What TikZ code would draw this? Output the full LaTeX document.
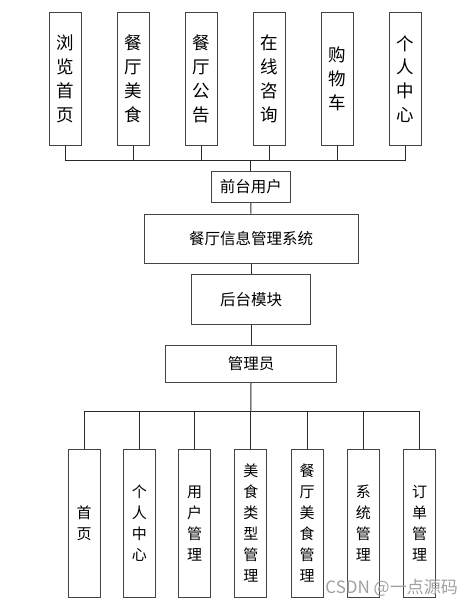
\documentclass[tikz,border=0pt]{standalone}
\usepackage{fontspec}
\newfontfamily\cjk{Noto Sans CJK SC}
\definecolor{boxline}{RGB}{68,68,68}
\definecolor{linkline}{RGB}{40,40,40}
\definecolor{wmgray}{RGB}{160,160,160}
\begin{document}
\begin{tikzpicture}[x=1pt,y=-1pt,
  box/.style={draw=boxline, line width=1pt, fill=white, inner sep=0pt, align=center},
  topbox/.style={box, minimum width=32pt, minimum height=133.4pt, font=\cjk\fontsize{17.5}{23.8}\selectfont},
  botbox/.style={box, minimum width=32pt, minimum height=148pt, font=\cjk\fontsize{15}{21}\selectfont},
  midbox/.style={box, font=\cjk\fontsize{15.5}{18}\selectfont},
  link/.style={draw=linkline, line width=1pt}]
\useasboundingbox (0,0) rectangle (475,605);
% top row
\node[topbox] (t1) at (65.3,79) {浏\\览\\首\\页};
\node[topbox] (t2) at (133.2,79) {餐\\厅\\美\\食};
\node[topbox] (t3) at (201,79) {餐\\厅\\公\\告};
\node[topbox] (t4) at (269.2,79) {在\\线\\咨\\询};
\node[topbox] (t5) at (337.3,79) {购\\物\\车};
\node[topbox] (t6) at (405.7,79) {个\\人\\中\\心};
% middle column
\node[midbox, minimum width=79.7pt, minimum height=31.3pt] (fu) at (250.85,186.65) {前台用户};
\node[midbox, minimum width=214pt, minimum height=49pt] (sys) at (251,238.5) {餐厅信息管理系统};
\node[midbox, minimum width=118.6pt, minimum height=49.3pt] (bk) at (251,299.35) {后台模块};
\node[midbox, minimum width=170.6pt, minimum height=37.7pt] (adm) at (251,363.85) {管理员};
% bottom row
\node[botbox] (b1) at (84.2,523.3) {首\\页};
\node[botbox] (b2) at (139.3,523.3) {个\\人\\中\\心};
\node[botbox] (b3) at (194.7,523.3) {用\\户\\管\\理};
\node[botbox] (b4) at (250.8,523.3) {美\\食\\类\\型\\管\\理};
\node[botbox] (b5) at (307.2,523.3) {餐\\厅\\美\\食\\管\\理};
\node[botbox] (b6) at (363.3,523.3) {系\\统\\管\\理};
\node[botbox] (b7) at (419.7,523.3) {订\\单\\管\\理};
% buses
\coordinate (busT) at (250.85,160);
\coordinate (busB) at (250.8,411.7);
\foreach \n in {t1,t2,t3,t4,t5,t6} \draw[link] (\n.south) -- (\n.south |- busT);
\draw[link] (t1.south |- busT) -- (t6.south |- busT);
\draw[link] (fu.north) -- (busT);
\draw[link] (fu.south) -- (sys.north);
\draw[link] (sys.south) -- (bk.north);
\draw[link] (bk.south) -- (adm.north);
\draw[link] (adm.south) -- (busB);
\draw[link] (b1.north |- busB) -- (b7.north |- busB);
\foreach \n in {b1,b2,b3,b4,b5,b6,b7} \draw[link] (\n.north |- busB) -- (\n.north);
% watermark
\node[anchor=east, inner sep=0pt, text=wmgray, font=\cjk\fontsize{17}{19}\selectfont] (wm) at (458,588) {CSDN @一点源码};
\end{tikzpicture}
\end{document}
